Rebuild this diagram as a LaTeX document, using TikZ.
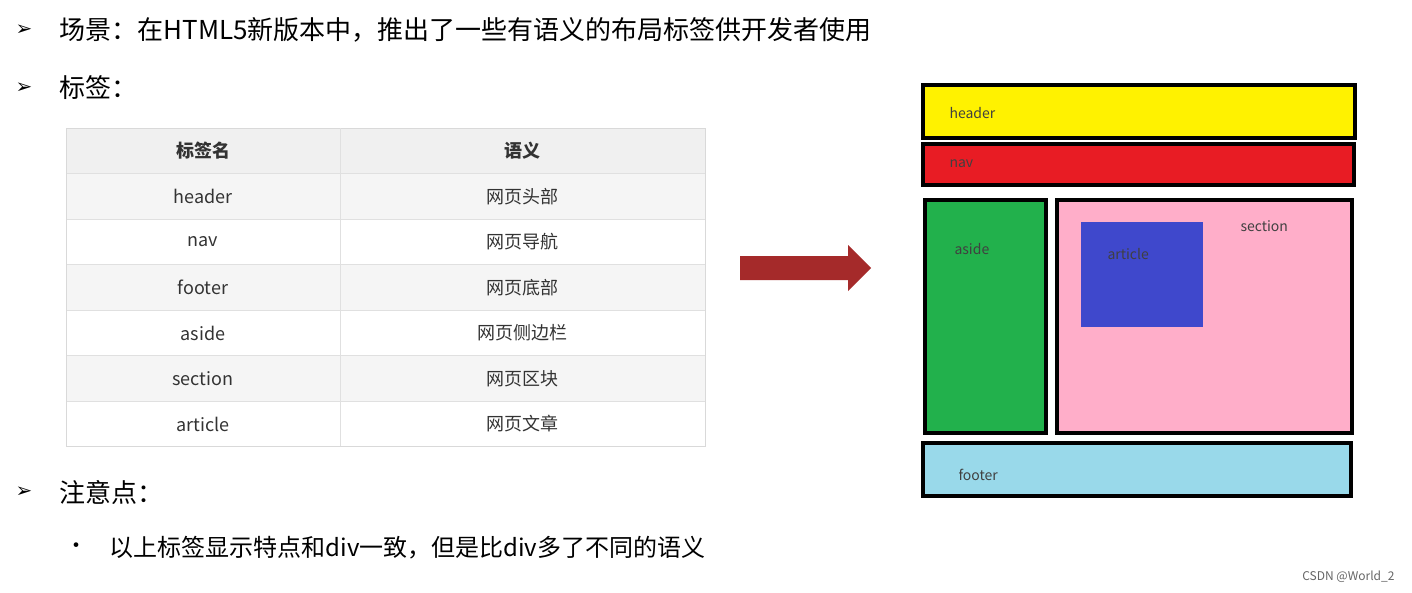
\documentclass[tikz,border=0pt]{standalone}
\usepackage{fontspec}
\setmainfont{Noto Sans CJK SC}
\newfontfamily\symfont{DejaVu Sans}
\definecolor{hdyellow}{HTML}{FFF200}
\definecolor{navred}{HTML}{E81C24}
\definecolor{asgreen}{HTML}{22B14C}
\definecolor{secpink}{HTML}{FFAEC9}
\definecolor{artblue}{HTML}{3F48CC}
\definecolor{ftblue}{HTML}{99D9EA}
\definecolor{arrred}{HTML}{A52A2A}
\begin{document}
\begin{tikzpicture}[x=1pt,y=-1pt]
	% Einstellungen
	\tikzset{
		blk/.style={draw=black, line width=4pt},
		blktext/.style={anchor=west, font=\fontsize{14}{16}\selectfont, text=black!75},
		head/.style={anchor=west, font=\fontsize{26}{30}\selectfont},
		bullmark/.style={anchor=west, font=\symfont\fontsize{20}{24}\selectfont},
		cell/.style={font=\fontsize{18}{22}\selectfont, text=black!80}
	}
	\useasboundingbox (0,0) rectangle (1412,592);
	\fill[white] (0,0) rectangle (1412,592);
	
	% Ueberschriften
	\node[bullmark] (m1) at (12,30) {➢};
	\node[head] (t1) at (56,30) {场景：在HTML5新版本中，推出了一些有语义的布局标签供开发者使用};
	\node[bullmark] (m2) at (12,88) {➢};
	\node[head] (t2) at (56,88) {标签：};
	\node[bullmark] (m3) at (12,492) {➢};
	\node[head] (t3) at (56,492) {注意点：};
	\node[anchor=west, font=\fontsize{22}{26}\selectfont] (m4) at (62,548) {•};
	\node[anchor=west, font=\fontsize{24}{28}\selectfont] (t4) at (106,548) {以上标签显示特点和div一致，但是比div多了不同的语义};
	
	% Tabelle
	\fill[black!6] (66,128) rectangle (705,173);
	\foreach \r in {1,3,5} {
		\fill[black!4] (66,128+45*\r+0.5*\r) rectangle (705,173+45*\r+0.5*\r);
	}
	\foreach \y in {173,219,264,310,355,401} {
		\draw[black!12] (66,\y) -- (705,\y);
	}
	\draw[black!15] (66,128) rectangle (705,446);
	\draw[black!12] (340,128) -- (340,446);
	\node[cell, font=\bfseries\fontsize{18}{22}\selectfont] (h1) at (203,151) {标签名};
	\node[cell, font=\bfseries\fontsize{18}{22}\selectfont] (h2) at (522,151) {语义};
	\foreach \n/\s [count=\i] in {header/网页头部, nav/网页导航, footer/网页底部, aside/网页侧边栏, section/网页区块, article/网页文章} {
		\node[cell] (n\i) at (203,151+45.5*\i) {\n};
		\node[cell] (s\i) at (522,151+45.5*\i) {\s};
	}
	
	% Pfeil
	\fill[arrred] (740,256) -- (848,256) -- (848,245) -- (871,268) -- (848,291) -- (848,280) -- (740,280) -- cycle;
	
	% Layout
	\draw[blk, fill=hdyellow] (923,85) rectangle (1355,138);
	\node[blktext] (lh) at (946,113) {header};
	\draw[blk, fill=navred] (923,144) rectangle (1354,185);
	\node[blktext] (ln) at (946,164) {nav};
	\draw[blk, fill=asgreen] (925,200) rectangle (1046,433);
	\node[blktext] (la) at (951,249) {aside};
	\draw[blk, fill=secpink] (1057,200) rectangle (1352,433);
	\node[blktext] (ls) at (1237,226) {section};
	\fill[artblue] (1081,222) rectangle (1203,327);
	\node[blktext] (lr) at (1104,254) {article};
	\draw[blk, fill=ftblue] (923,443) rectangle (1351,496);
	\node[blktext] (lf) at (955,475) {footer};
	
	\node[anchor=east, font=\fontsize{12}{14}\selectfont, text=black!60] (cs) at (1398,577) {CSDN @World\_2};
\end{tikzpicture}
\end{document}
